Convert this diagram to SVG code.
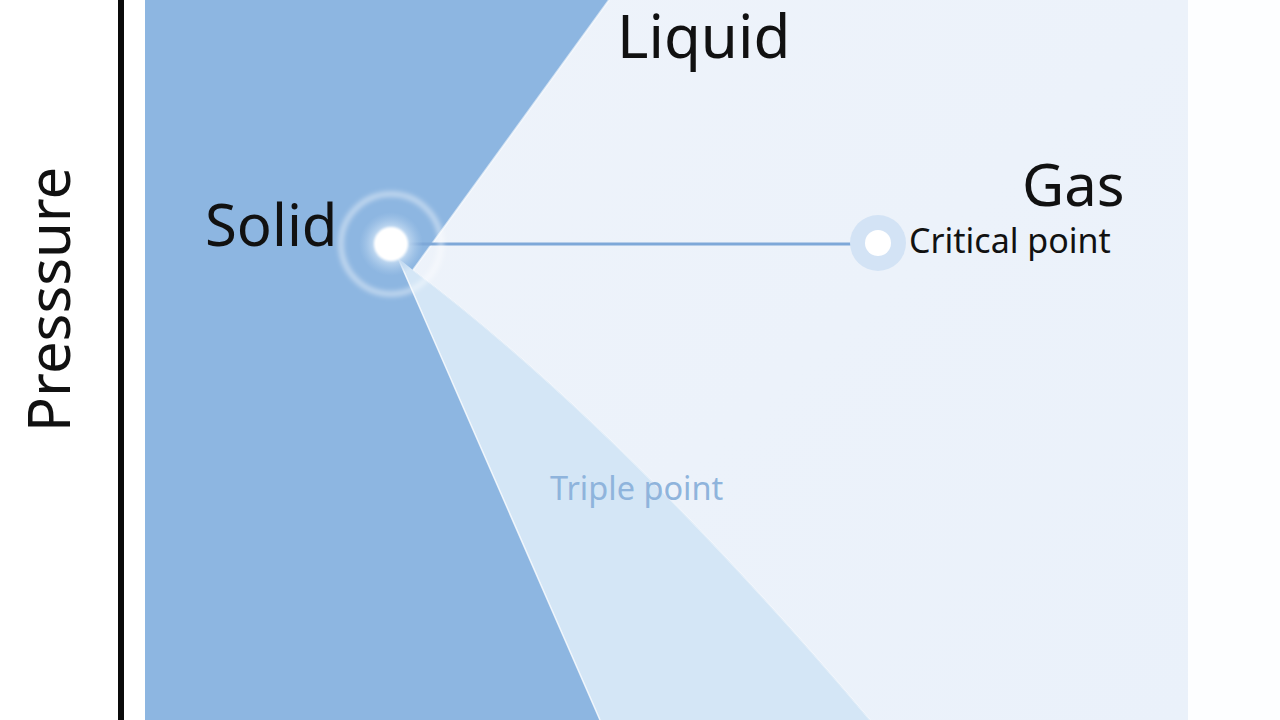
<svg xmlns="http://www.w3.org/2000/svg" width="1280" height="720" viewBox="0 0 1280 720">
  <defs>
    <style>
      .lbl { font-family: "Noto Sans", "Open Sans", "DejaVu Sans", sans-serif; fill: #111; }
    </style>
    <filter id="blur2" x="-50%" y="-50%" width="200%" height="200%">
      <feGaussianBlur stdDeviation="2.5"/>
    </filter>
    <filter id="blur1" x="-50%" y="-50%" width="200%" height="200%">
      <feGaussianBlur stdDeviation="1"/>
    </filter>
    <radialGradient id="haloTP" cx="0.5" cy="0.5" r="0.5">
      <stop offset="0" stop-color="#e6f0fb" stop-opacity="1"/>
      <stop offset="0.55" stop-color="#c4dbf2" stop-opacity="0.9"/>
      <stop offset="1" stop-color="#a9c9ea" stop-opacity="0"/>
    </radialGradient>
    <linearGradient id="lightGrad" x1="0" y1="0" x2="1" y2="1">
      <stop offset="0" stop-color="#eef3fa"/>
      <stop offset="1" stop-color="#eaf1fa"/>
    </linearGradient>
  </defs>

  <!-- background -->
  <rect x="0" y="0" width="1280" height="720" fill="#ffffff"/>
  <rect x="1188" y="0" width="92" height="720" fill="#fdfeff"/>

  <!-- axis -->
  <rect x="118" y="0" width="6" height="720" fill="#0a0a0a"/>

  <!-- regions -->
  <g id="regions">
    <rect id="solid-region" x="145" y="0" width="1043" height="720" fill="#8db6e1"/>
    <path id="liquid-gas-region" d="M609,0 L413,270 Q625,430 870,720 L1188,720 L1188,0 Z" fill="url(#lightGrad)"/>
    <path id="vapor-wedge" d="M398,258 L600,720 L870,720 Q625,430 413,270 Z" fill="#d4e6f6"/>
    <path d="M609,0 L413,270" stroke="#ffffff" stroke-opacity="0.6" stroke-width="2" fill="none"/>
    <path d="M398,258 L600,720" stroke="#ffffff" stroke-opacity="0.8" stroke-width="1.5" fill="none"/>
    <path d="M413,270 Q625,430 870,720" stroke="#ffffff" stroke-opacity="0.5" stroke-width="1.5" fill="none"/>
  </g>

  <!-- connectors -->
  <g id="connectors">
    <line x1="392" y1="244" x2="878" y2="244" stroke="#7ea8d8" stroke-width="3"/>
  </g>

  <!-- triple point node -->
  <g id="triple-point">
    <circle cx="391" cy="244" r="50" fill="none" stroke="#ffffff" stroke-opacity="0.5" stroke-width="5" filter="url(#blur2)"/>
    <circle cx="391" cy="244" r="32" fill="url(#haloTP)"/>
    <circle cx="391" cy="244" r="17" fill="#ffffff" filter="url(#blur1)"/>
    <circle cx="391" cy="244" r="15" fill="#ffffff"/>
  </g>

  <!-- critical point node -->
  <g id="critical-point">
    <circle cx="878" cy="243" r="28" fill="#d3e3f5"/>
    <circle cx="878" cy="243" r="13" fill="#ffffff"/>
  </g>

  <!-- labels -->
  <g id="labels">
    <text class="lbl" font-size="60" x="617" y="58">Liquid</text>
    <text class="lbl" font-size="58" x="1022" y="206">Gas</text>
    <text class="lbl" font-size="58" x="205" y="246">Solid</text>
    <text class="lbl" font-size="34" x="909" y="253">Critical point</text>
    <text class="lbl" font-size="32.5" x="550" y="500" style="fill:#8fb4dc">Triple point</text>
    <text class="lbl" font-size="58" transform="translate(70,432) rotate(-90)">Presssure</text>
  </g>
</svg>
